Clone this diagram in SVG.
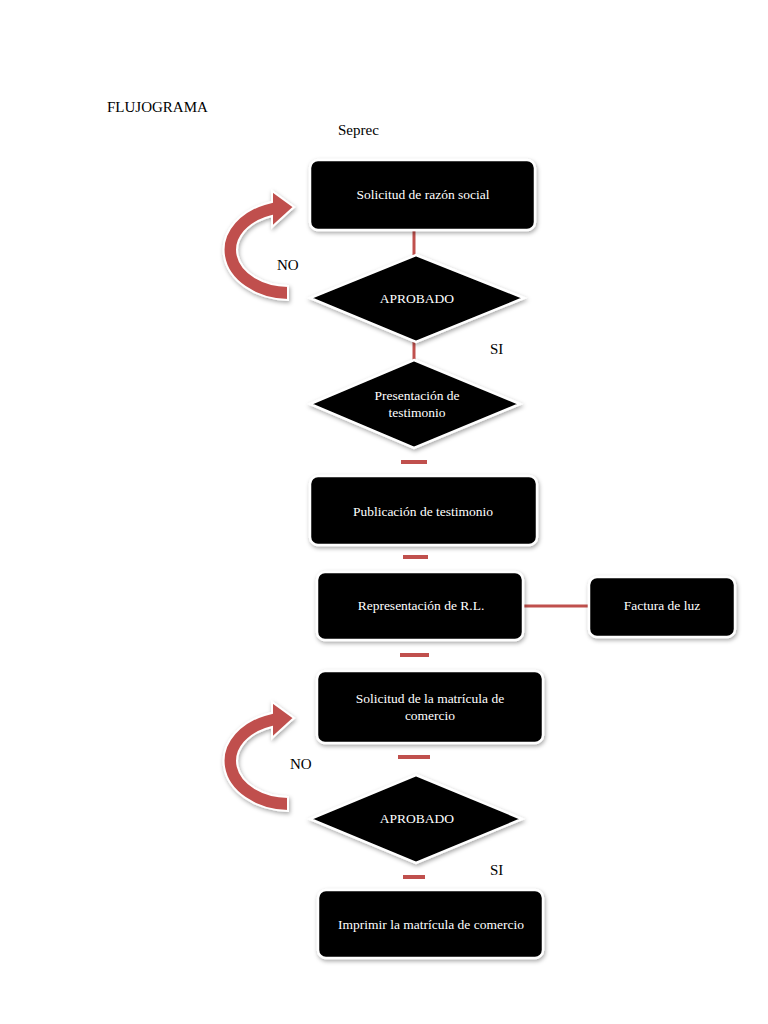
<svg xmlns="http://www.w3.org/2000/svg" width="768" height="1024" viewBox="0 0 768 1024">
<defs>
<filter id="sh" x="-20%" y="-20%" width="140%" height="150%">
<feDropShadow dx="1" dy="2" stdDeviation="2" flood-color="#000" flood-opacity="0.35"/>
</filter>
</defs>
<style>
.n{fill:#000;stroke:#fff;stroke-width:2.5;filter:url(#sh)}
.t{fill:#fff;font-family:"Liberation Serif",serif;font-size:13.5px;text-anchor:middle}
.l{fill:#000;font-family:"Liberation Serif",serif;font-size:15px}
.c{stroke:#c0504d;stroke-width:3;fill:none}
.d{stroke:#c0504d;stroke-width:4;fill:none}
.a{fill:#c0504d;stroke:#fff;stroke-width:2;filter:url(#sh)}
</style>
<rect width="768" height="1024" fill="#fff"/>
<text class="l" x="107" y="112" font-size="16">FLUJOGRAMA</text>
<text class="l" x="338" y="135">Seprec</text>
<g id="connectors">
<line class="c" x1="414" y1="230" x2="414" y2="255"/>
<line class="c" x1="414" y1="342" x2="414" y2="360"/>
<line class="d" x1="401" y1="462" x2="427" y2="462"/>
<line class="d" x1="403" y1="557" x2="428" y2="557"/>
<line class="c" x1="523" y1="606" x2="590" y2="606"/>
<line class="d" x1="400" y1="655" x2="429" y2="655"/>
<line class="d" x1="398" y1="757" x2="430" y2="757"/>
<line class="d" x1="403" y1="877" x2="425" y2="877"/>
<path class="a" d="M288,300 A67,50 0 0 1 272,202 L272,191 L294,207 L272,227 L272,216 A52,36 0 0 0 288,286 Z"/>
<path class="a" d="M288,811 A67,50 0 0 1 272,713 L272,702 L294,718 L272,738 L272,727 A52,36 0 0 0 288,797 Z"/>
</g>
<text class="l" x="277" y="270">NO</text>
<text class="l" x="490" y="354">SI</text>
<text class="l" x="290" y="769">NO</text>
<text class="l" x="490" y="875">SI</text>
<g id="n1"><rect class="n" x="310" y="160" width="225" height="70" rx="8"/><text class="t" x="423" y="199">Solicitud de razón social</text></g>
<g id="n2"><polygon class="n" points="416,255 524,298 416,342 310,298"/><text class="t" x="417" y="303">APROBADO</text></g>
<g id="n3"><polygon class="n" points="414,360 520,404 414,448 310,404"/><text class="t" x="417" y="400">Presentación de</text><text class="t" x="417" y="417">testimonio</text></g>
<g id="n4"><rect class="n" x="310" y="476" width="227" height="69" rx="8"/><text class="t" x="423" y="516">Publicación de testimonio</text></g>
<g id="n5"><rect class="n" x="317" y="572" width="206" height="68" rx="8"/><text class="t" x="421" y="610">Representación de R.L.</text></g>
<g id="n6"><rect class="n" x="589" y="577" width="146" height="60" rx="8"/><text class="t" x="662" y="610">Factura de luz</text></g>
<g id="n7"><rect class="n" x="317" y="671" width="226" height="72" rx="8"/><text class="t" x="430" y="703">Solicitud de la matrícula de</text><text class="t" x="430" y="720">comercio</text></g>
<g id="n8"><polygon class="n" points="416,775 522,819 416,863 310,819"/><text class="t" x="417" y="823">APROBADO</text></g>
<g id="n9"><rect class="n" x="318" y="890" width="225" height="68" rx="8"/><text class="t" x="431" y="929">Imprimir la matrícula de comercio</text></g>
</svg>
